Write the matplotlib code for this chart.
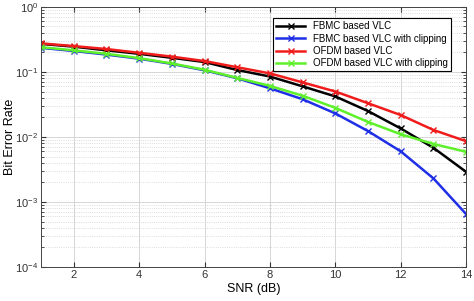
import matplotlib
matplotlib.use('Agg')
import matplotlib.pyplot as plt
import numpy as np

plt.rcParams['font.family'] = ['Liberation Sans', 'DejaVu Sans']

snr = [1, 2, 3, 4, 5, 6, 7, 8, 9, 10, 11, 12, 13, 14]
fbmc = [0.27, 0.245, 0.215, 0.19, 0.165, 0.142, 0.107, 0.085, 0.06, 0.042, 0.025, 0.0135, 0.0068, 0.0029]
fbmc_clip = [0.235, 0.21, 0.185, 0.16, 0.133, 0.106, 0.08, 0.056, 0.038, 0.023, 0.0123, 0.006, 0.0023, 0.00065]
ofdm = [0.275, 0.25, 0.225, 0.197, 0.172, 0.147, 0.118, 0.095, 0.069, 0.05, 0.033, 0.0217, 0.0128, 0.0086]
ofdm_clip = [0.24, 0.215, 0.19, 0.163, 0.135, 0.108, 0.081, 0.061, 0.043, 0.028, 0.017, 0.011, 0.0078, 0.0059]

fig = plt.figure(figsize=(4.74, 3.01), dpi=100)
ax = fig.add_axes([0.0865, 0.113, 0.897, 0.864])

ax.semilogy(snr, fbmc, 'k-x', lw=1.8, ms=5, label='FBMC based VLC')
ax.semilogy(snr, fbmc_clip, '-x', color='#1f2fe6', lw=1.8, ms=5, label='FBMC based VLC with clipping')
ax.semilogy(snr, ofdm, '-x', color='#f01c1c', lw=1.8, ms=5, label='OFDM based VLC')
ax.semilogy(snr, ofdm_clip, '-x', color='#5ef02a', lw=1.8, ms=5, label='OFDM based VLC with clipping')

ax.set_xlim(1, 14)
ax.set_ylim(1e-4, 1)
ax.set_xticks([2, 4, 6, 8, 10, 12, 14])
ax.grid(True, which='major', color='#d0d0d0', lw=0.6)
ax.grid(True, which='minor', color='#d0d0d0', lw=0.6, ls=':')
ax.tick_params(which='both', direction='in', top=True, right=True, labelsize=8, colors='#333333', pad=2)
for s in ax.spines.values():
    s.set_color('#444444')
    s.set_linewidth(0.7)

ax.set_xlabel('SNR (dB)', fontsize=9, labelpad=2)
ax.set_ylabel('Bit Error Rate', fontsize=9)
ax.yaxis.set_label_coords(-0.058, 0.5)

leg = ax.legend(loc='upper right', fontsize=7, fancybox=False, framealpha=1,
                edgecolor='black', handlelength=3, borderpad=0.3, labelspacing=0.25,
                bbox_to_anchor=(0.975, 0.975))
leg.get_frame().set_linewidth(0.8)

fig.savefig('out.png', dpi=100)
